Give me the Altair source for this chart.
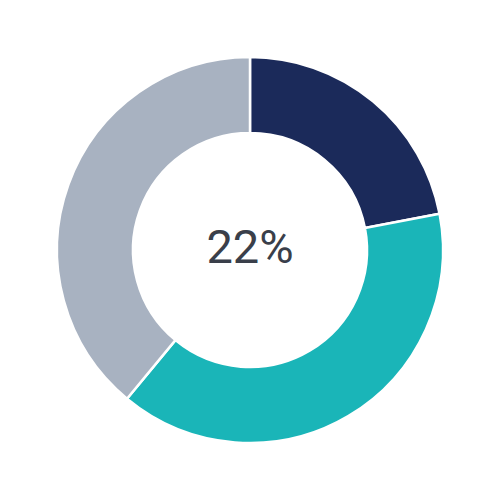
import altair as alt
import pandas as pd

# slice shares
labels = ["A", "B", "C"]
shares = [22, 39, 39]
colors = ["#1b2a5a", "#1ab5b8", "#a8b2c1"]
center_label = "22%"

df = pd.DataFrame({"label": labels, "share": shares, "rank": [0, 1, 2]})

ring = alt.Chart(df).mark_arc(
    radius=193, radius2=117, stroke="white", strokeWidth=2.5
).encode(
    theta=alt.Theta("share:Q", stack=True),
    order=alt.Order("rank:Q"),
    color=alt.Color("label:N", scale=alt.Scale(domain=labels, range=colors), legend=None),
)

text = alt.Chart(pd.DataFrame({"t": [center_label]})).mark_text(
    font="Roboto", fontSize=47, color="#3a3f4a", baseline="middle", align="center"
).encode(
    text="t:N",
    x=alt.value(242),
    y=alt.value(241),
)

chart = (ring + text).properties(
    width=484, height=484, padding=0, autosize=alt.AutoSizeParams(type="none")
).configure_view(stroke=None)

chart.save("out.html", embed_options={"renderer": "svg", "actions": False})
